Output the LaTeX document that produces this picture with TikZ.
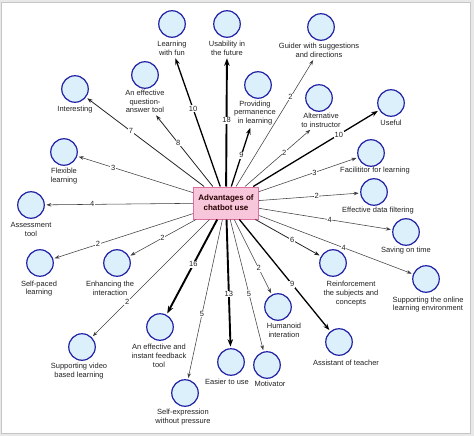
\documentclass[tikz,border=0pt]{standalone}
\usepackage{fontspec}
\setmainfont{Liberation Sans}
\usetikzlibrary{arrows.meta}
\definecolor{circfill}{HTML}{DCF0FB}
\definecolor{circdraw}{HTML}{2323A8}
\definecolor{boxfill}{HTML}{F8C6DA}
\definecolor{boxdraw}{HTML}{E0709F}
\definecolor{txt}{HTML}{222222}
\begin{document}
\begin{tikzpicture}[x=1pt,y=-1pt,
  adv/.style={circle,minimum size=26.5pt,inner sep=0pt,draw=circdraw,fill=circfill,line width=1.2pt},
  lbl/.style={align=center,inner sep=1pt,text=txt,font=\fontsize{7.5}{8.7}\selectfont},
  hub/.style={rectangle,minimum width=65pt,minimum height=32pt,fill=boxfill,draw=boxdraw,line width=1pt,align=center,font=\bfseries\fontsize{8}{10}\selectfont,text=black!85!red},
  wt/.style={fill=white,inner sep=0.6pt,text=txt,font=\fontsize{7.5}{8}\selectfont},
  wthin/.style={line width=0.55pt,draw=black!75,-{Stealth[length=5pt,width=3.6pt]},shorten >=1.5pt},
  wmid/.style={line width=0.8pt,draw=black!85,-{Stealth[length=5.5pt,width=4pt]},shorten >=1.5pt},
  wbold/.style={line width=1.3pt,draw=black,-{Stealth[length=6.5pt,width=4.8pt]},shorten >=1.5pt},
  wheavy/.style={line width=1.9pt,draw=black,-{Stealth[length=7.5pt,width=5.5pt]},shorten >=1.5pt}]
\useasboundingbox (0,0) rectangle (474,436);
\fill[gray!18] (0,0) rectangle (474,436);
\fill[white,draw=gray!45,line width=0.5pt] (1.5,2.5) rectangle (470,433);

\node[hub] (hub) at (226,203) {Advantages of\\chatbot use};

% circles
\node[adv] (lwf) at (172,24) {};
\node[adv] (usa) at (227,24) {};
\node[adv] (gui) at (321,27) {};
\node[adv] (qa)  at (145,75) {};
\node[adv] (int) at (75,89) {};
\node[adv] (pro) at (258,85) {};
\node[adv] (alt) at (319,98) {};
\node[adv] (use) at (391,103) {};
\node[adv] (fle) at (64,152) {};
\node[adv] (fac) at (371,153) {};
\node[adv] (ass) at (31,205) {};
\node[adv] (edf) at (374,192) {};
\node[adv] (sav) at (406,232) {};
\node[adv] (spl) at (40,263) {};
\node[adv] (enh) at (117,263) {};
\node[adv] (rei) at (333,263) {};
\node[adv] (sol) at (426,279) {};
\node[adv] (hum) at (278,307) {};
\node[adv] (fee) at (160,327) {};
\node[adv] (ast) at (339,342) {};
\node[adv] (svb) at (82,347) {};
\node[adv] (eas) at (231,362) {};
\node[adv] (mot) at (267,365) {};
\node[adv] (sex) at (185,393) {};

% labels
\node[lbl] (lwfL) at (172,48.5) {Learning\\with fun};
\node[lbl] (usaL) at (227,48.5) {Usability in\\the future};
\node[lbl] (guiL) at (319,50.5) {Guider with suggestions\\and directions};
\node[lbl] (qaL)  at (145,101.5) {An effective\\question-\\answer tool};
\node[lbl] (intL) at (75,110) {Interesting};
\node[lbl] (proL) at (255,113) {Providing\\permanence\\in learning};
\node[lbl] (altL) at (321,120.5) {Alternative\\to instructor};
\node[lbl] (useL) at (391,123) {Useful};
\node[lbl] (fleL) at (64,176) {Flexible\\learning};
\node[lbl] (facL) at (375,171) {Facilititor for learning};
\node[lbl] (edfL) at (378,211) {Effective data filtering};
\node[lbl] (savL) at (406,251) {Saving on time};
\node[lbl] (assL) at (31,229.5) {Assessment\\tool};
\node[lbl] (splL) at (39,288.5) {Self-paced\\learning};
\node[lbl] (enhL) at (110,288.5) {Enhancing the\\interaction};
\node[lbl] (reiL) at (351,293.5) {Reinforcement\\the subjects and\\concepts};
\node[lbl] (solL) at (428,304.5) {Supporting the online\\learning environment};
\node[lbl] (humL) at (284,330.5) {Humanoid\\interation};
\node[lbl] (feeL) at (159,356) {An effective and\\instant feedback\\tool};
\node[lbl] (astL) at (346,363) {Assistant of teacher};
\node[lbl] (svbL) at (79,371) {Supporting video\\based learning};
\node[lbl] (easL) at (227,382) {Easier to use};
\node[lbl] (motL) at (270,384) {Motivator};
\node[lbl] (sexL) at (183,417) {Self-expression\\without pressure};

% connectors
\draw[wbold]  (hub) -- node[wt,pos=0.60] {10} (lwfL);
\draw[wheavy] (hub) -- node[wt,pos=0.51] {18} (usaL);
\draw[wthin]  (hub) -- node[wt,pos=0.70] {2} (guiL);
\draw[wmid]   (hub) -- node[wt,pos=0.60] {8} (qaL);
\draw[wmid]   (hub) -- node[wt,pos=0.62] {7} (int);
\draw[wbold]  (hub) -- node[wt,pos=0.52] {9} (proL);
\draw[wthin]  (hub) -- node[wt,pos=0.59] {2} (altL);
\draw[wbold]  (hub) -- node[wt,pos=0.68] {10} (use);
\draw[wthin]  (hub) -- node[wt,pos=0.69] {3} (fle);
\draw[wthin]  (hub) -- node[wt,pos=0.56] {3} (fac);
\draw[wthin]  (hub) -- node[wt,pos=0.68] {4} (ass);
\draw[wthin]  (hub) -- node[wt,pos=0.57] {2} (edf);
\draw[wthin]  (hub) -- node[wt,pos=0.53] {4} (sav);
\draw[wthin]  (hub) -- node[wt,pos=0.68] {2} (spl);
\draw[wthin]  (hub) -- node[wt,pos=0.50] {2} (enh);
\draw[wmid]   (hub) -- node[wt,pos=0.56] {6} (rei);
\draw[wthin]  (hub) -- node[wt,pos=0.55] {4} (sol);
\draw[wthin]  (hub) -- node[wt,pos=0.65] {2} (hum);
\draw[wheavy] (hub) -- node[wt,pos=0.47] {16} (fee);
\draw[wbold]  (hub) -- node[wt,pos=0.58] {9} (ast);
\draw[wthin]  (hub) -- node[wt,pos=0.70] {2} (svb);
\draw[wheavy] (hub) -- node[wt,pos=0.58] {13} (eas);
\draw[wthin]  (hub) -- node[wt,pos=0.56] {5} (mot);
\draw[wthin]  (hub) -- node[wt,pos=0.59] {5} (sex);
\end{tikzpicture}
\end{document}
